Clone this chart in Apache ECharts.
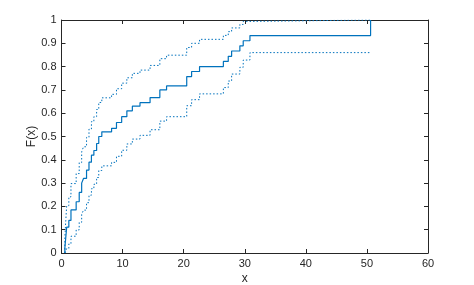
<!DOCTYPE html>
<html>
<head>
<meta charset="utf-8">
<script src="https://cdn.jsdelivr.net/npm/echarts@6/dist/echarts.min.js"></script>
<style>
  html, body { margin: 0; padding: 0; background: #fff; }
  #chart { width: 474px; height: 285px; }
</style>
</head>
<body>
<div id="chart"></div>
<script>
var stepX = [0.55, 0.55, 0.7, 0.85, 1.2, 1.55, 2.4, 2.9, 3.3, 3.6, 4.1, 4.5, 4.9, 5.3, 5.75, 6.1, 6.6,
    8.2, 9.0, 9.85, 10.7, 11.6, 12.85, 14.5, 16.1, 17.2, 20.5, 21.3, 22.6, 26.5, 27.3, 27.85,
    29.2, 29.75, 30.85, 50.6];
// F(x) after each jump
var cdfF = [0, 0.022, 0.067, 0.111, 0.14, 0.185, 0.22, 0.26, 0.30, 0.32, 0.356, 0.39, 0.42, 0.44, 0.47, 0.50, 0.52,
    0.535, 0.56, 0.585, 0.61, 0.63, 0.645, 0.667, 0.70, 0.717, 0.757, 0.779, 0.80, 0.822, 0.844, 0.867,
    0.889, 0.911, 0.933, 1.0];
// upper / lower confidence bounds at the same jumps
var upperF = [0, 0.065, 0.14, 0.203, 0.241, 0.298, 0.341, 0.388, 0.434, 0.456, 0.496, 0.532, 0.564, 0.585, 0.616, 0.646, 0.666,
    0.681, 0.705, 0.729, 0.752, 0.771, 0.785, 0.805, 0.834, 0.849, 0.882, 0.90, 0.917, 0.934, 0.95, 0.966,
    0.981, 0.994, 1.0, 1.0];
var lowerF = [0, 0, 0, 0.019, 0.039, 0.072, 0.099, 0.132, 0.166, 0.184, 0.216, 0.248, 0.276, 0.295, 0.324, 0.354, 0.374,
    0.389, 0.415, 0.441, 0.468, 0.489, 0.505, 0.529, 0.566, 0.585, 0.632, 0.658, 0.683, 0.71, 0.738, 0.768,
    0.797, 0.828, 0.86, 0.86];

var xTicks = [0, 10, 20, 30, 40, 50, 60];
var yTicks = [0, 0.1, 0.2, 0.3, 0.4, 0.5, 0.6, 0.7, 0.8, 0.9, 1];

function pairs(xs, ys) {
    var out = [];
    for (var i = 0; i < xs.length; i++) out.push([xs[i], ys[i]]);
    return out;
}

var axisColor = '#262626';
var blue = '#0072BD';
var font = 'Liberation Sans';

var chart = echarts.init(document.getElementById('chart'), null, { renderer: 'canvas' });

var tickStyle = { show: true, inside: true, length: 4, lineStyle: { color: axisColor, width: 1 } };
var lineStyle = { show: true, onZero: false, lineStyle: { color: axisColor, width: 1 } };

var option = {
    animation: false,
    backgroundColor: '#fff',
    grid: { left: 61.5, right: 46, top: 20, bottom: 32, containLabel: false, outerBoundsMode: 'none' },
    xAxis: [{
        type: 'value',
        min: 0, max: 60, interval: 10,
        name: 'x',
        nameLocation: 'middle',
        nameGap: 20,
        nameMoveOverlap: false,
        nameTextStyle: { color: axisColor, fontFamily: font, fontSize: 12 },
        axisLine: lineStyle,
        axisTick: tickStyle,
        splitLine: { show: false },
        axisLabel: {
            color: axisColor, fontFamily: font, fontSize: 11, margin: 5,
            formatter: function (v) { return xTicks.indexOf(v) >= 0 ? String(v) : ''; }
        }
    }, {
        type: 'value',
        position: 'top',
        min: 0, max: 60, interval: 10,
        axisLine: lineStyle,
        axisTick: tickStyle,
        splitLine: { show: false },
        axisLabel: { show: false }
    }],
    yAxis: [{
        type: 'value',
        min: 0, max: 1, interval: 0.1,
        name: 'F(x)',
        nameLocation: 'middle',
        nameGap: 24,
        nameRotate: 90,
        nameMoveOverlap: false,
        nameTextStyle: { color: axisColor, fontFamily: font, fontSize: 12 },
        axisLine: lineStyle,
        axisTick: tickStyle,
        splitLine: { show: false },
        axisLabel: {
            color: axisColor, fontFamily: font, fontSize: 11, margin: 5,
            formatter: function (v) {
                var r = Math.round(v * 10) / 10;
                return yTicks.indexOf(r) >= 0 ? String(r) : '';
            }
        }
    }, {
        type: 'value',
        position: 'right',
        min: 0, max: 1, interval: 0.1,
        axisLine: lineStyle,
        axisTick: tickStyle,
        splitLine: { show: false },
        axisLabel: { show: false }
    }],
    series: [{
        name: 'F(x)',
        type: 'line',
        step: 'end',
        showSymbol: false,
        data: pairs(stepX, cdfF),
        lineStyle: { color: blue, width: 1.2 },
        z: 3
    }, {
        name: 'Upper bound',
        type: 'line',
        step: 'end',
        showSymbol: false,
        data: pairs(stepX, upperF),
        lineStyle: { color: blue, width: 1, type: [1.5, 2] },
        z: 2
    }, {
        name: 'Lower bound',
        type: 'line',
        step: 'end',
        showSymbol: false,
        data: pairs(stepX, lowerF),
        lineStyle: { color: blue, width: 1, type: [1.5, 2] },
        z: 2
    }]
};

chart.setOption(option);
</script>
</body>
</html>
